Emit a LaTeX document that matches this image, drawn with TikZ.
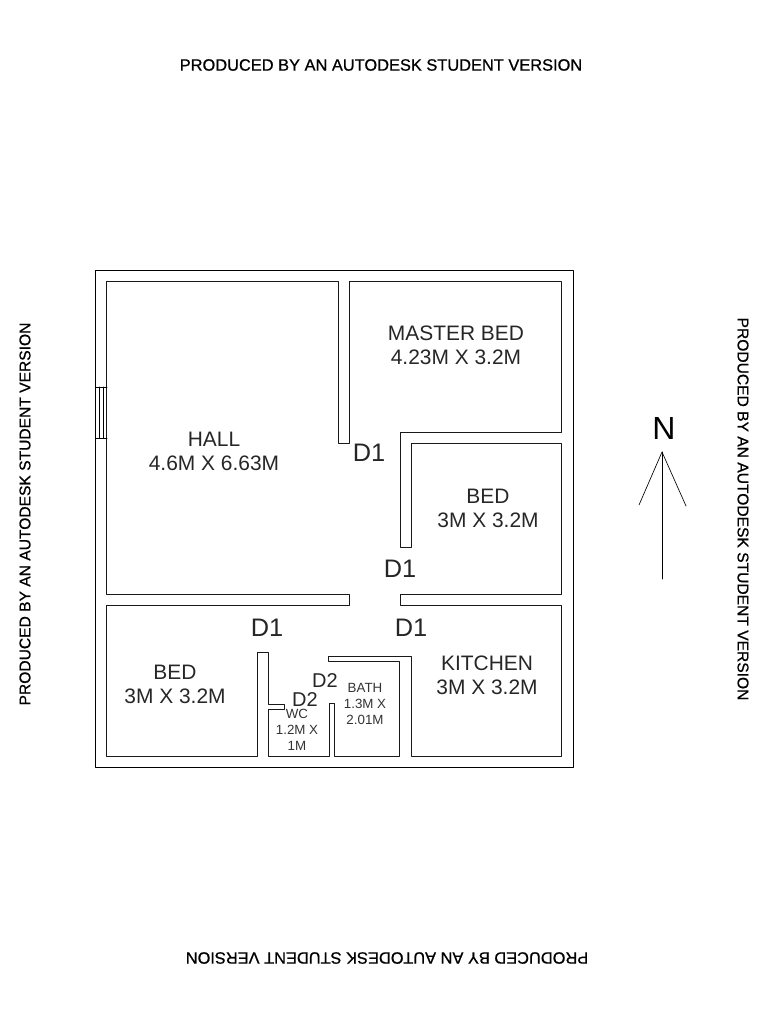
\documentclass[tikz,border=0pt]{standalone}
\usepackage{fontspec}
\setmainfont{Liberation Sans}
\newfontfamily\stampfont[BoldFont=Liberation Sans,BoldFeatures={FakeBold=0.8}]{Liberation Sans}
\tikzset{
  wall/.style={line width=0.6pt,draw=black!90},
  stamp/.style={text=black,font=\stampfont\bfseries\fontsize{12.3}{14}\selectfont},
  sidestamp/.style={stamp,font=\stampfont\bfseries\fontsize{11.7}{14}\selectfont},
  roomlabel/.style={align=center,text=black!85,font=\fontsize{15.7}{18}\selectfont},
  smalllabel/.style={align=center,inner sep=0pt,text=black!80,font=\fontsize{10}{12}\selectfont},
  doorone/.style={text=black!85,font=\fontsize{19}{20}\selectfont},
  doortwo/.style={inner sep=0pt,text=black!85,font=\fontsize{15}{16}\selectfont}
}
\begin{document}
\begin{tikzpicture}[line cap=round,line join=round,x=0.75pt,y=-0.75pt]
\useasboundingbox (0,0) rectangle (768,1024);
% outer wall
\draw [line width=0.6pt] (95.7,270) rectangle (573,767);
% inner wall line
\draw [wall] (106.6,281)-- (338,281)-- (338,443)-- (349,443)-- (349,281)-- (561,281)-- (561,432)-- (400,432)-- (400,547)-- (411,547)-- (411,443)-- (561,443)-- (561,594)-- (400,594)-- (400,605)-- (561,605)-- (561,756)-- (411,756)-- (411,656)-- (328,656)-- (328,661)-- (399,661)-- (399,756)-- (334,756)-- (334,703)-- (329,703)-- (329,756)-- (268,756)-- (268,709)-- (284,709)-- (284,704)-- (268,704)-- (268,652)-- (257,652)-- (257,756)-- (106.6,756)-- (106.6,605)-- (349,605)-- (349,594)-- (106.6,594)-- cycle;
% window
\draw [line width=0.5pt] (96,387)-- (107,387);
\draw [line width=0.5pt] (96,438)-- (107,438);
\draw [line width=0.5pt] (99.5,387)-- (99.5,438);
\draw [line width=0.5pt] (103,387)-- (103,438);
% north arrow
\draw [line width=0.5pt] (662,579)-- (662,452);
\draw [line width=0.5pt] (639,505)-- (662,452)-- (686,506);
\node [font=\fontsize{24}{26}\selectfont] (north) at (664,428) {N};
% rooms
\node [roomlabel] (hall) at (214,451) {HALL\\4.6M X 6.63M};
\node [roomlabel] (master) at (456,345) {MASTER BED\\4.23M X 3.2M};
\node [roomlabel] (bedeast) at (488,508) {BED\\3M X 3.2M};
\node [roomlabel] (bedwest) at (175,684) {BED\\3M X 3.2M};
\node [roomlabel] (kitchen) at (487,675) {KITCHEN\\3M X 3.2M};
\node [smalllabel] (bath) at (365,704) {BATH\\1.3M X\\2.01M};
\node [smalllabel] (wc) at (297,730) {WC\\1.2M X\\1M};
% doors
\node [doorone] (doora) at (369,453) {D1};
\node [doorone] (doorb) at (400,569) {D1};
\node [doorone] (doorc) at (267,628) {D1};
\node [doorone] (doord) at (411,628) {D1};
\node [doortwo] (doore) at (325,681) {D2};
\node [doortwo] (doorf) at (305,700) {D2};
% student stamps
\node [stamp] (stamptop) at (381,65) {PRODUCED BY AN AUTODESK STUDENT VERSION};
\node [stamp,rotate=180] (stampbottom) at (387,958) {PRODUCED BY AN AUTODESK STUDENT VERSION};
\node [sidestamp,rotate=90] (stampleft) at (25,514) {PRODUCED BY AN AUTODESK STUDENT VERSION};
\node [sidestamp,rotate=-90] (stampright) at (743,509) {PRODUCED BY AN AUTODESK STUDENT VERSION};
\end{tikzpicture}
\end{document}
